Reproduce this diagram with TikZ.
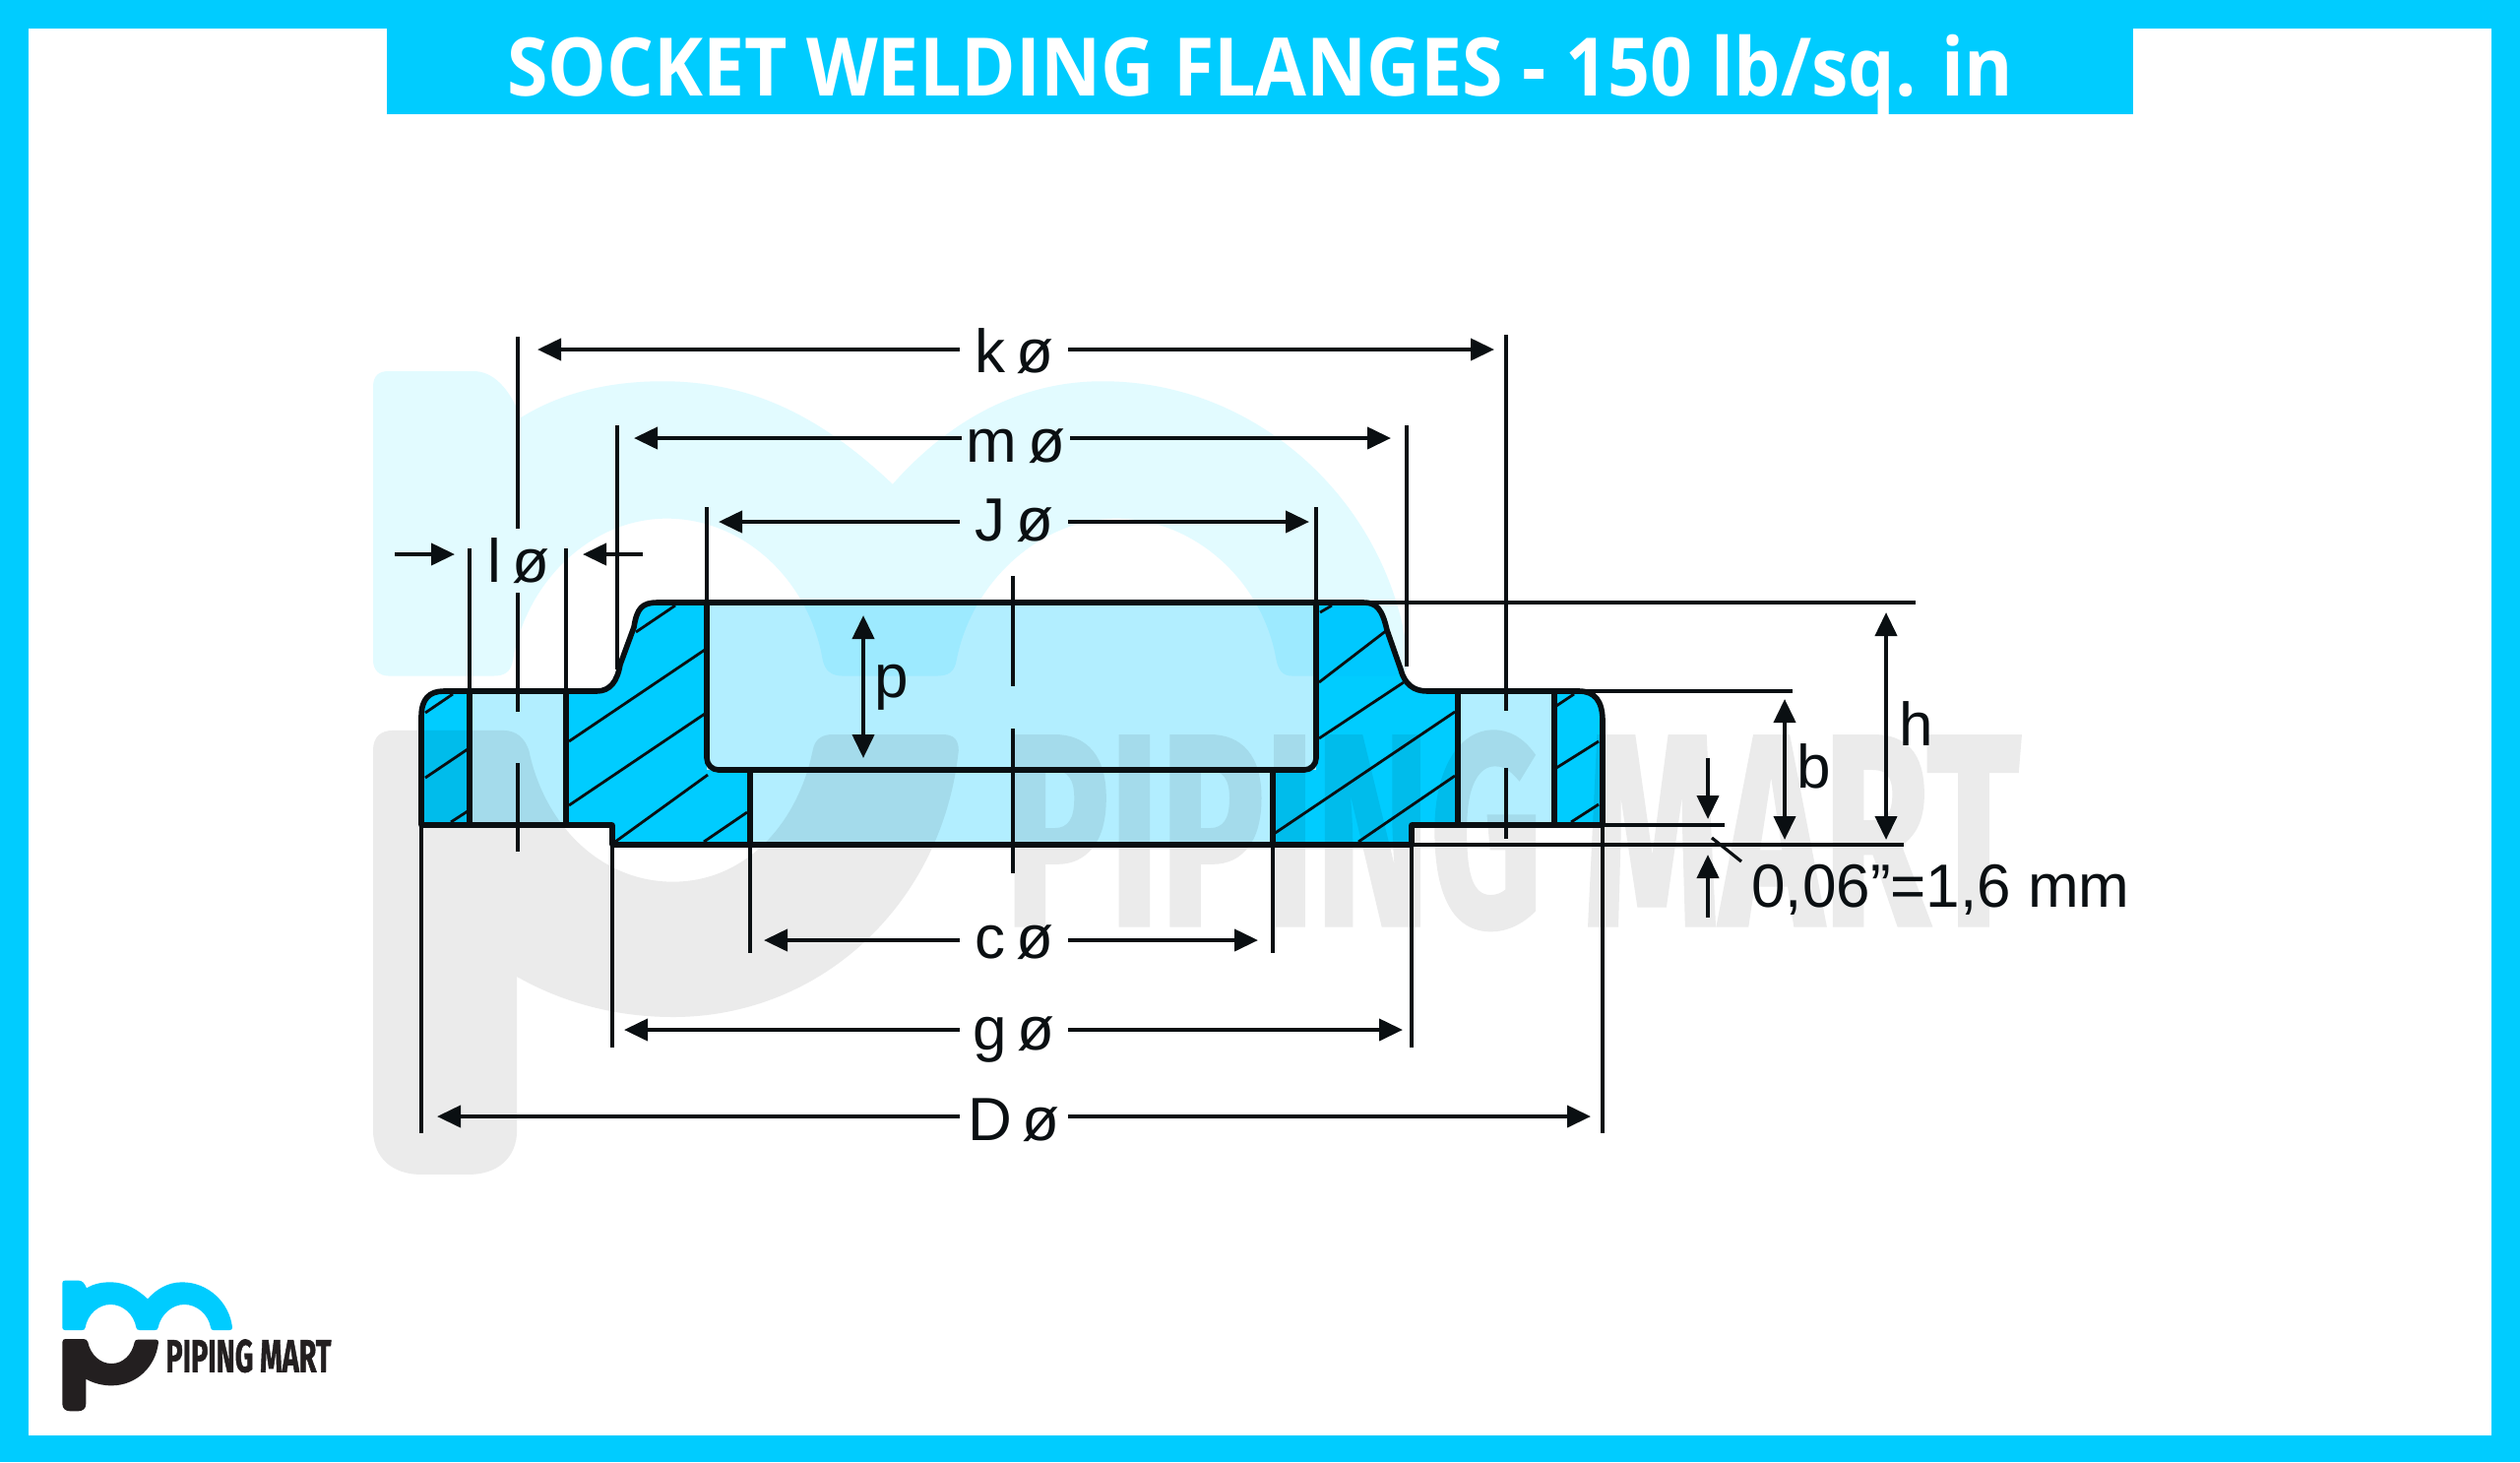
\documentclass[tikz,border=0pt]{standalone}
\usepackage{fontspec}
\usepackage{graphicx}
\setmainfont{Liberation Sans}
\newfontfamily\titlefont{Open Sans}
\newfontfamily\logofont{Fira Sans}[BoldFeatures={FakeBold=1.5}]
\usetikzlibrary{arrows.meta,calc}
\definecolor{brand}{HTML}{00CCFF}
\definecolor{bore}{HTML}{B2EEFF}
\definecolor{wmblue}{HTML}{E2FBFF}
\definecolor{wmgray}{HTML}{EBEBEB}
\definecolor{ink}{HTML}{0A0F12}
\definecolor{logoblack}{HTML}{231F20}
\newcommand{\dsp}{\hspace{5.5pt}}
\tikzset{
  outlinepath/.style={draw=ink,line width=2.8pt,line join=round},
  hatchline/.style={draw=ink,line width=1.4pt},
  extline/.style={draw=ink,line width=1.6pt},
  dimline/.style={draw=ink,line width=2pt,-{Triangle[length=12pt,width=11pt]}},
  dimboth/.style={draw=ink,line width=2pt,{Triangle[length=12pt,width=11pt]}-{Triangle[length=12pt,width=11pt]}},
  dimlabel/.style={anchor=base,inner sep=0pt,minimum width=55pt,font=\fontsize{31}{31}\selectfont,text=ink},
  freelabel/.style={anchor=base west,inner sep=0pt,font=\fontsize{31}{31}\selectfont,text=ink}
}
\newcommand{\logoshapes}[2]{%
  \fill[#1] (100,100) .. controls (100,94) and (103,92) .. (108,92) -- (150,92)
    .. controls (160,92) and (168,100) .. (174,115)
    .. controls (195,102) and (220,97) .. (245,97)
    .. controls (295,97) and (330,120) .. (360,148)
    .. controls (385,120) and (420,97) .. (465,97)
    .. controls (545,97) and (610,160) .. (618,235)
    .. controls (618,240) and (616,243) .. (610,243) -- (560,243)
    .. controls (555,243) and (553,240) .. (552,235)
    .. controls (545,195) and (510,165) .. (472,165)
    .. controls (435,165) and (400,195) .. (392,235)
    .. controls (391,241) and (388,243) .. (382,243) -- (335,243)
    .. controls (329,243) and (326,240) .. (325,235)
    .. controls (318,195) and (285,165) .. (247,165)
    .. controls (210,165) and (177,195) .. (170,235)
    .. controls (169,241) and (166,243) .. (160,243) -- (108,243)
    .. controls (103,243) and (100,240) .. (100,235) -- cycle;
  \fill[#2] (100,280) .. controls (100,273) and (104,270) .. (110,270) -- (165,270)
    .. controls (172,270) and (176,274) .. (178,280)
    .. controls (186,318) and (215,345) .. (250,345)
    .. controls (285,345) and (312,318) .. (320,280)
    .. controls (321,274) and (325,272) .. (330,272) -- (385,272)
    .. controls (391,272) and (393,275) .. (393,280)
    .. controls (385,355) and (325,412) .. (250,412)
    .. controls (222,412) and (195,405) .. (172,392) -- (172,468)
    .. controls (172,482) and (162,490) .. (148,490) -- (124,490)
    .. controls (110,490) and (100,482) .. (100,468) -- cycle;
}
\begin{document}
\begin{tikzpicture}[x=0.5pt,y=-0.5pt]
\useasboundingbox (0,0) rectangle (2560,1485);
% frame
\fill[brand] (0,0) rectangle (2560,1485);
\fill[white] (29,29) rectangle (2531,1458);
\fill[brand] (393,0) rectangle (2167,116);
\node[anchor=base,inner sep=0pt,text=white,font=\titlefont\bfseries\fontsize{41}{41}\selectfont] (title) at (1280,97) {\scalebox{0.917}[1]{SOCKET WELDING FLANGES - 150 lb/sq. in}};
% solid body
\fill[brand] (428,838) -- (428,728) .. controls (428,710) and (436,702) .. (451,702) -- (606,702)
  .. controls (620,702) and (627,692) .. (630,675) -- (644,637)
  .. controls (647,618) and (652,612) .. (668,612) -- (1385,612)
  .. controls (1398,612) and (1404,618) .. (1409,640) -- (1423,680)
  .. controls (1427,695) and (1436,702) .. (1450,702) -- (1604,702)
  .. controls (1620,702) and (1628,712) .. (1628,732) -- (1628,838) -- (1434,838) -- (1434,858)
  -- (622,858) -- (622,838) -- cycle;
% bores
\fill[bore] (477,702) rectangle (575,838);
\fill[bore] (1481,702) rectangle (1579,838);
\fill[bore] (718,612) rectangle (1337,782);
\fill[bore] (762,782) rectangle (1293,858);
% watermark
\begin{scope}[blend mode=multiply]
  \begin{scope}[shift={(176,188.4)},xscale=2.03,yscale=2.05]
    \logoshapes{wmblue}{wmgray}
  \end{scope}
  \begin{scope}[transparency group]
    \node[anchor=north west,inner sep=0pt,text=wmgray] (wmtext) at (1020,743) {\resizebox{516pt}{98pt}{\logofont\bfseries PIPING MART}};
  \end{scope}
\end{scope}
% hatching
\draw[hatchline] (578,753) -- (716,660);
\draw[hatchline] (578,818) -- (716,725);
\draw[hatchline] (625,855) -- (719,787);
\draw[hatchline] (715,855) -- (759,825);
\draw[hatchline] (646,642) -- (686,615);
\draw[hatchline] (432,790) -- (475,761);
\draw[hatchline] (432,724) -- (460,705);
\draw[hatchline] (458,835) -- (475,824);
\draw[hatchline] (1340,693) -- (1409,640);
\draw[hatchline] (1340,750) -- (1426,693);
\draw[hatchline] (1294,847) -- (1478,723);
\draw[hatchline] (1380,855) -- (1478,788);
\draw[hatchline] (1581,780) -- (1624,753);
\draw[hatchline] (1596,835) -- (1624,817);
\draw[hatchline] (1581,717) -- (1599,705);
\draw[hatchline] (1341,622) -- (1353,615);
% outline
\draw[outlinepath] (428,838) -- (428,728) .. controls (428,710) and (436,702) .. (451,702) -- (606,702)
  .. controls (620,702) and (627,692) .. (630,675) -- (644,637)
  .. controls (647,618) and (652,612) .. (668,612) -- (1385,612)
  .. controls (1398,612) and (1404,618) .. (1409,640) -- (1423,680)
  .. controls (1427,695) and (1436,702) .. (1450,702) -- (1604,702)
  .. controls (1620,702) and (1628,712) .. (1628,732) -- (1628,838) -- (1434,838) -- (1434,858)
  -- (622,858) -- (622,838) -- cycle;
\draw[outlinepath,rounded corners=6pt] (718,612) -- (718,782) -- (1337,782) -- (1337,612);
\draw[outlinepath] (762,782) -- (762,858);
\draw[outlinepath] (1293,782) -- (1293,858);
\draw[outlinepath] (477,702) -- (477,838);
\draw[outlinepath] (575,702) -- (575,838);
\draw[outlinepath] (1481,702) -- (1481,838);
\draw[outlinepath] (1579,702) -- (1579,838);
% extension lines
\draw[extline] (526,342) -- (526,537);
\draw[extline] (526,602) -- (526,723);
\draw[extline] (526,775) -- (526,865);
\draw[extline] (1530,340) -- (1530,722);
\draw[extline] (1530,780) -- (1530,852);
\draw[extline] (1029,585) -- (1029,697);
\draw[extline] (1029,740) -- (1029,887);
\draw[extline] (627,432) -- (627,680);
\draw[extline] (1429,432) -- (1429,677);
\draw[extline] (718,515) -- (718,612);
\draw[extline] (1337,515) -- (1337,612);
\draw[extline] (477,557) -- (477,702);
\draw[extline] (575,557) -- (575,702);
\draw[extline] (762,858) -- (762,968);
\draw[extline] (1293,858) -- (1293,968);
\draw[extline] (622,838) -- (622,1064);
\draw[extline] (1434,838) -- (1434,1064);
\draw[extline] (428,838) -- (428,1151);
\draw[extline] (1628,838) -- (1628,1151);
\draw[outlinepath,line width=2pt] (1385,612) -- (1946,612);
\draw[outlinepath,line width=2pt] (1604,702) -- (1821,702);
\draw[outlinepath,line width=2pt] (1628,838) -- (1752,838);
\draw[outlinepath,line width=2pt] (1434,858) -- (1934,858);
% horizontal dimensions
\node[dimlabel] (lk) at (1030,378) {k\dsp ø};
\node[dimlabel] (lm) at (1032,469) {m\dsp ø};
\node[dimlabel] (lj) at (1030,549) {J\dsp ø};
\node[dimlabel] (lc) at (1030,973) {c\dsp ø};
\node[dimlabel] (lg) at (1030,1066) {g\dsp ø};
\node[dimlabel] (ld) at (1030,1158) {D\dsp ø};
\coordinate (kL) at (546,355); \coordinate (kR) at (1518,355);
\coordinate (mL) at (644,445); \coordinate (mR) at (1413,445);
\coordinate (jL) at (730,530); \coordinate (jR) at (1330,530);
\coordinate (cL) at (776,955); \coordinate (cR) at (1278,955);
\coordinate (gL) at (634,1046); \coordinate (gR) at (1425,1046);
\coordinate (dL) at (444,1134); \coordinate (dR) at (1616,1134);
\foreach \n/\p in {lk/k,lm/m,lj/j,lc/c,lg/g,ld/d}{
  \draw[dimline] (\n.west |- \p L) -- (\p L);
  \draw[dimline] (\n.east |- \p R) -- (\p R);
}
% bolt hole dimension
\node[anchor=base west,inner sep=0pt,font=\fontsize{31}{31}\selectfont,text=ink] (ll) at (495,591) {l\dsp ø};
\coordinate (lat) at (401,563); \coordinate (ltip) at (462,563);
\coordinate (rat) at (653,563); \coordinate (rtip) at (592,563);
\draw[dimline] (lat) -- (ltip);
\draw[dimline] (rat) -- (rtip);
% vertical dimensions
\coordinate (pT) at (877,625); \coordinate (pB) at (877,770);
\draw[dimboth] (pT) -- (pB);
\node[freelabel] (lp) at (888,708) {p};
\coordinate (bT) at (1813,710); \coordinate (bB) at (1813,853);
\draw[dimboth] (bT) -- (bB);
\node[freelabel] (lb) at (1825,800) {b};
\coordinate (hT) at (1916,622); \coordinate (hB) at (1916,853);
\draw[dimboth] (hT) -- (hB);
\node[freelabel] (lh) at (1929,757) {h};
\coordinate (sA) at (1735,770); \coordinate (sB) at (1735,832);
\draw[dimline] (sA) -- (sB);
\coordinate (sC) at (1735,932); \coordinate (sD) at (1735,868);
\draw[dimline] (sC) -- (sD);
\node[freelabel] (lnote) at (1779,921) {0,06”=1,6 mm};
\coordinate (nA) at (1739,851); \coordinate (nB) at (1769,875);
\draw[extline] (nA) -- (nB);
% logo
\begin{scope}[shift={(30,1270)},scale=0.33333]
  \logoshapes{brand}{logoblack}
\end{scope}
\node[anchor=north west,inner sep=0pt,text=logoblack] (logotext) at (168,1360) {\resizebox{84pt}{16.5pt}{\logofont\bfseries PIPING MART}};
\end{tikzpicture}
\end{document}
